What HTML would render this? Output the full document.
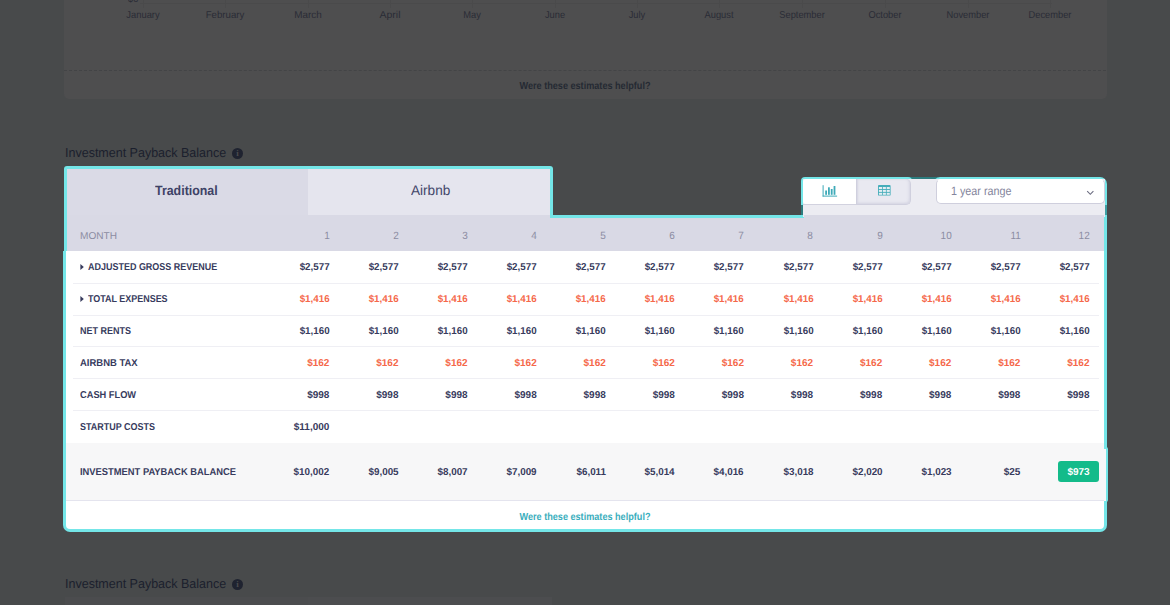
<!DOCTYPE html>
<html><head><meta charset="utf-8"><title>Investment Payback Balance</title>
<style>
*{box-sizing:border-box;margin:0;padding:0}
html,body{width:1170px;height:605px;overflow:hidden}
body{background:#484a4b;font-family:"Liberation Sans",sans-serif;position:relative}
.abs{position:absolute}
.t{position:absolute;white-space:nowrap;line-height:1;text-rendering:geometricPrecision}
.info{position:absolute;width:11px;height:11px;border-radius:50%;background:#1f2330;color:#4a4b4d;font-size:9px;font-weight:bold;text-align:center;line-height:11px;font-family:"Liberation Serif",serif}
.sep{position:absolute;left:73px;width:1026px;height:1px;background:#efeff4}

</style></head><body>
<div class="abs" style="left:64px;top:-10px;width:1042.6px;height:109px;background:#4e4e4f;border-radius:5px"></div>
<div class="abs" style="left:64px;top:70px;width:1042px;height:0;border-top:1px dashed #434446"></div>
<div class="abs" style="left:140px;top:3px;width:912px;height:1px;background:#4a4a4b"></div>
<div class="abs" style="left:143px;top:0;width:1px;height:8px;background:#4a4a4b"></div>
<div class="abs" style="left:225px;top:0;width:1px;height:8px;background:#4a4a4b"></div>
<div class="abs" style="left:308px;top:0;width:1px;height:8px;background:#4a4a4b"></div>
<div class="abs" style="left:390px;top:0;width:1px;height:8px;background:#4a4a4b"></div>
<div class="abs" style="left:472px;top:0;width:1px;height:8px;background:#4a4a4b"></div>
<div class="abs" style="left:555px;top:0;width:1px;height:8px;background:#4a4a4b"></div>
<div class="abs" style="left:637px;top:0;width:1px;height:8px;background:#4a4a4b"></div>
<div class="abs" style="left:719px;top:0;width:1px;height:8px;background:#4a4a4b"></div>
<div class="abs" style="left:802px;top:0;width:1px;height:8px;background:#4a4a4b"></div>
<div class="abs" style="left:885px;top:0;width:1px;height:8px;background:#4a4a4b"></div>
<div class="abs" style="left:968px;top:0;width:1px;height:8px;background:#4a4a4b"></div>
<div class="abs" style="left:1050px;top:0;width:1px;height:8px;background:#4a4a4b"></div>
<div class="info" style="left:232px;top:147.5px">i</div>
<div class="info" style="left:232px;top:578.5px">i</div>
<div class="abs" style="left:65px;top:597px;width:243px;height:10px;background:#4b4c4e"></div>
<div class="abs" style="left:308px;top:597px;width:244px;height:10px;background:#4c4d4f"></div>
<div class="abs" style="left:64px;top:166px;width:489px;height:52px;background:#74e6e8;border-radius:3px 3px 0 0"></div>
<div class="abs" style="left:908px;top:177.2px;width:30px;height:3px;background:#2c7c7e"></div>
<div class="abs" style="left:801px;top:200px;width:4px;height:17px;background:#2c7c7e"></div>
<div class="abs" style="left:1103px;top:200px;width:3.6px;height:17px;background:#3f9fa3"></div>
<div class="abs" style="left:801px;top:177px;width:111px;height:28px;background:#74e6e8;border-radius:4px 4px 0 0"></div>
<div class="abs" style="left:934px;top:177px;width:173px;height:28px;background:#74e6e8;border-radius:6px 7px 0 0"></div>
<div class="abs" style="left:64px;top:215.4px;width:1042.6px;height:40px;background:#74e6e8"></div>
<div class="abs" style="left:63px;top:251px;width:1044px;height:281px;background:#74e6e8;border-radius:0 0 7px 7px"></div>
<div class="abs" style="left:66.5px;top:168.5px;width:241.5px;height:48.5px;background:#dadae6"></div>
<div class="abs" style="left:308px;top:168.5px;width:242.2px;height:46.3px;background:#e5e5ee"></div>
<div class="abs" style="left:803px;top:179px;width:302px;height:38px;background:#ececf2"></div>
<div class="abs" style="left:803px;top:179px;width:54px;height:25px;background:#fff;border-radius:3px 0 0 3px"></div>
<div class="abs" style="left:803px;top:204px;width:54px;height:1px;background:#d2d2df"></div>
<div class="abs" style="left:856px;top:179px;width:55px;height:26px;background:#e9e9f1;border-radius:0 5px 5px 0;border:1px solid #d0d0de;border-top:none;box-shadow:inset -1px -1px 3px #d4d4e2, inset 1px 0 2px #d8d8e4"></div>
<svg class="abs" style="left:821.5px;top:184px" width="16" height="14" viewBox="0 0 16 14"><g fill="#3eaab8"><rect x="0.6" y="1.2" width="1" height="11.3"/><rect x="0.6" y="11.6" width="14.5" height="1"/><rect x="3.2" y="6.5" width="1.8" height="4.3"/><rect x="6" y="3.3" width="1.8" height="7.5"/><rect x="8.8" y="5" width="1.8" height="5.8"/><rect x="11.6" y="2" width="1.8" height="8.8"/></g></svg>
<svg class="abs" style="left:878px;top:185.3px" width="13" height="11" viewBox="0 0 13 11"><rect x="0" y="0" width="12.6" height="10.6" rx="0.9" fill="#45adba"/><g fill="#e4eef3"><rect x="0.9" y="2" width="3.1" height="2"/><rect x="4.8" y="2" width="3.1" height="2"/><rect x="8.7" y="2" width="3.1" height="2"/><rect x="0.9" y="4.9" width="3.1" height="2"/><rect x="4.8" y="4.9" width="3.1" height="2"/><rect x="8.7" y="4.9" width="3.1" height="2"/><rect x="0.9" y="7.8" width="3.1" height="2"/><rect x="4.8" y="7.8" width="3.1" height="2"/><rect x="8.7" y="7.8" width="3.1" height="2"/></g></svg>
<div class="abs" style="left:936px;top:179px;width:169px;height:25px;background:#fff;border-radius:5px;border:1px solid #cfcfdd;border-top-color:#fff"></div>
<svg class="abs" style="left:1086px;top:189.5px" width="9" height="6" viewBox="0 0 9 6"><path d="M1.2 1.2 L4.3 4.3 L7.4 1.2" fill="none" stroke="#6b6c80" stroke-width="1.1"/></svg>
<div class="abs" style="left:66.5px;top:217.6px;width:1037.5px;height:33.4px;background:#d9d9e5"></div>
<div class="abs" style="left:66.5px;top:214.8px;width:483.7px;height:3px;background:#d9d9e5"></div>
<div class="abs" style="left:803.8px;top:215px;width:300.2px;height:3px;background:#d9d9e5"></div>
<div class="abs" style="left:66px;top:251px;width:1038px;height:192px;background:#fff"></div>
<svg class="abs" style="left:80px;top:263px" width="5" height="8" viewBox="0 0 5 8"><path d="M0.4 1.1 L3.8 4 L0.4 6.9 Z" fill="#373b5d"/></svg>
<div class="sep" style="top:283px"></div>
<svg class="abs" style="left:80px;top:295px" width="5" height="8" viewBox="0 0 5 8"><path d="M0.4 1.1 L3.8 4 L0.4 6.9 Z" fill="#373b5d"/></svg>
<div class="sep" style="top:315px"></div>
<div class="sep" style="top:346px"></div>
<div class="sep" style="top:378px"></div>
<div class="sep" style="top:410px"></div>
<div class="abs" style="left:66px;top:443px;width:1038px;height:58px;background:#f7f7f8;border-bottom:1px solid #e4e4ee"></div>
<div class="abs" style="left:1104px;top:447px;width:4px;height:55px;background:#74e6e8;border-radius:0 2px 2px 0"></div>
<div class="abs" style="left:1104px;top:449px;width:1.5px;height:52px;background:#f7f7f8"></div>
<div class="abs" style="left:1058px;top:461px;width:41px;height:21px;background:#14bb8a;border-radius:3px"></div>
<div class="abs" style="left:66px;top:501px;width:1038px;height:28.3px;background:#fff;border-radius:0 0 4px 4px"></div>
<div class="t" style="left:143.00px;transform-origin:0 50%;transform:translateX(-46.798%) scaleX(0.9360);top:11.00px;font-size:10px;color:#2a2c36">January</div>
<div class="t" style="left:225.00px;transform-origin:0 50%;transform:translateX(-48.231%) scaleX(0.9646);top:11.00px;font-size:10px;color:#2a2c36">February</div>
<div class="t" style="left:308.00px;transform-origin:0 50%;transform:translateX(-49.466%) scaleX(0.9893);top:11.00px;font-size:10px;color:#2a2c36">March</div>
<div class="t" style="left:390.00px;transform-origin:0 50%;transform:translateX(-52.459%) scaleX(1.0492);top:11.00px;font-size:10px;color:#2a2c36">April</div>
<div class="t" style="left:472.00px;transform-origin:0 50%;transform:translateX(-46.500%) scaleX(0.9300);top:11.00px;font-size:10px;color:#2a2c36">May</div>
<div class="t" style="left:555.00px;transform-origin:0 50%;transform:translateX(-46.500%) scaleX(0.9300);top:11.00px;font-size:10px;color:#2a2c36">June</div>
<div class="t" style="left:637.00px;transform-origin:0 50%;transform:translateX(-46.500%) scaleX(0.9300);top:11.00px;font-size:10px;color:#2a2c36">July</div>
<div class="t" style="left:719.00px;transform-origin:0 50%;transform:translateX(-46.500%) scaleX(0.9300);top:11.00px;font-size:10px;color:#2a2c36">August</div>
<div class="t" style="left:802.00px;transform-origin:0 50%;transform:translateX(-46.500%) scaleX(0.9300);top:11.00px;font-size:10px;color:#2a2c36">September</div>
<div class="t" style="left:885.00px;transform-origin:0 50%;transform:translateX(-46.500%) scaleX(0.9300);top:11.00px;font-size:10px;color:#2a2c36">October</div>
<div class="t" style="left:968.00px;transform-origin:0 50%;transform:translateX(-46.500%) scaleX(0.9300);top:11.00px;font-size:10px;color:#2a2c36">November</div>
<div class="t" style="left:1050.00px;transform-origin:0 50%;transform:translateX(-46.500%) scaleX(0.9300);top:11.00px;font-size:10px;color:#2a2c36">December</div>
<div class="t" style="left:128.00px;transform-origin:0 50%;transform:scaleX(0.9300);top:-5.00px;font-size:10px;color:#2a2c36">$0</div>
<div class="t" style="left:585.20px;transform-origin:0 50%;transform:translateX(-44.247%) scaleX(0.8849);top:82.00px;font-size:10.3px;font-weight:bold;color:#252a33">Were these estimates helpful?</div>
<div class="t" style="left:64.60px;transform-origin:0 50%;transform:scaleX(0.9615);top:146.00px;font-size:13px;color:#1b1f2d">Investment Payback Balance</div>
<div class="t" style="left:64.60px;transform-origin:0 50%;transform:scaleX(0.9615);top:577.00px;font-size:13px;color:#1b1f2d">Investment Payback Balance</div>
<div class="t" style="left:154.70px;transform-origin:0 50%;transform:scaleX(0.9185);top:184.00px;font-size:13.5px;font-weight:bold;color:#3e4266">Traditional</div>
<div class="t" style="left:410.90px;transform-origin:0 50%;transform:scaleX(0.9711);top:183.00px;font-size:14px;color:#43476a">Airbnb</div>
<div class="t" style="left:950.90px;transform-origin:0 50%;transform:scaleX(0.8978);top:185.00px;font-size:12px;color:#84859c">1 year range</div>
<div class="t" style="left:80.30px;transform-origin:0 50%;transform:scaleX(1.0089);top:232.00px;font-size:10px;color:#8b8ca2">MONTH</div>
<div class="t" style="right:840.40px;transform-origin:100% 50%;transform:scaleX(0.9500);top:231.00px;font-size:10.5px;color:#8b8ca2">1</div>
<div class="t" style="right:771.30px;transform-origin:100% 50%;transform:scaleX(0.9500);top:231.00px;font-size:10.5px;color:#8b8ca2">2</div>
<div class="t" style="right:702.20px;transform-origin:100% 50%;transform:scaleX(0.9500);top:231.00px;font-size:10.5px;color:#8b8ca2">3</div>
<div class="t" style="right:633.10px;transform-origin:100% 50%;transform:scaleX(0.9500);top:231.00px;font-size:10.5px;color:#8b8ca2">4</div>
<div class="t" style="right:564.00px;transform-origin:100% 50%;transform:scaleX(0.9500);top:231.00px;font-size:10.5px;color:#8b8ca2">5</div>
<div class="t" style="right:494.90px;transform-origin:100% 50%;transform:scaleX(0.9500);top:231.00px;font-size:10.5px;color:#8b8ca2">6</div>
<div class="t" style="right:425.80px;transform-origin:100% 50%;transform:scaleX(0.9500);top:231.00px;font-size:10.5px;color:#8b8ca2">7</div>
<div class="t" style="right:356.70px;transform-origin:100% 50%;transform:scaleX(0.9500);top:231.00px;font-size:10.5px;color:#8b8ca2">8</div>
<div class="t" style="right:287.60px;transform-origin:100% 50%;transform:scaleX(0.9500);top:231.00px;font-size:10.5px;color:#8b8ca2">9</div>
<div class="t" style="right:218.50px;transform-origin:100% 50%;transform:scaleX(0.9500);top:231.00px;font-size:10.5px;color:#8b8ca2">10</div>
<div class="t" style="right:149.40px;transform-origin:100% 50%;transform:scaleX(0.9500);top:231.00px;font-size:10.5px;color:#8b8ca2">11</div>
<div class="t" style="right:80.30px;transform-origin:100% 50%;transform:scaleX(0.9500);top:231.00px;font-size:10.5px;color:#8b8ca2">12</div>
<div class="t" style="left:87.80px;transform-origin:0 50%;transform:scaleX(0.8977);top:263.00px;font-size:10px;font-weight:bold;color:#373b5d">ADJUSTED GROSS REVENUE</div>
<div class="t" style="right:840.60px;transform-origin:100% 50%;transform:scaleX(0.9780);top:263.00px;font-size:10px;font-weight:bold;color:#373b5d">$2,577</div>
<div class="t" style="right:771.50px;transform-origin:100% 50%;transform:scaleX(0.9780);top:263.00px;font-size:10px;font-weight:bold;color:#373b5d">$2,577</div>
<div class="t" style="right:702.40px;transform-origin:100% 50%;transform:scaleX(0.9780);top:263.00px;font-size:10px;font-weight:bold;color:#373b5d">$2,577</div>
<div class="t" style="right:633.30px;transform-origin:100% 50%;transform:scaleX(0.9780);top:263.00px;font-size:10px;font-weight:bold;color:#373b5d">$2,577</div>
<div class="t" style="right:564.20px;transform-origin:100% 50%;transform:scaleX(0.9780);top:263.00px;font-size:10px;font-weight:bold;color:#373b5d">$2,577</div>
<div class="t" style="right:495.10px;transform-origin:100% 50%;transform:scaleX(0.9780);top:263.00px;font-size:10px;font-weight:bold;color:#373b5d">$2,577</div>
<div class="t" style="right:426.00px;transform-origin:100% 50%;transform:scaleX(0.9780);top:263.00px;font-size:10px;font-weight:bold;color:#373b5d">$2,577</div>
<div class="t" style="right:356.90px;transform-origin:100% 50%;transform:scaleX(0.9780);top:263.00px;font-size:10px;font-weight:bold;color:#373b5d">$2,577</div>
<div class="t" style="right:287.80px;transform-origin:100% 50%;transform:scaleX(0.9780);top:263.00px;font-size:10px;font-weight:bold;color:#373b5d">$2,577</div>
<div class="t" style="right:218.70px;transform-origin:100% 50%;transform:scaleX(0.9780);top:263.00px;font-size:10px;font-weight:bold;color:#373b5d">$2,577</div>
<div class="t" style="right:149.60px;transform-origin:100% 50%;transform:scaleX(0.9780);top:263.00px;font-size:10px;font-weight:bold;color:#373b5d">$2,577</div>
<div class="t" style="right:80.50px;transform-origin:100% 50%;transform:scaleX(0.9780);top:263.00px;font-size:10px;font-weight:bold;color:#373b5d">$2,577</div>
<div class="t" style="left:87.80px;transform-origin:0 50%;transform:scaleX(0.8952);top:295.00px;font-size:10px;font-weight:bold;color:#373b5d">TOTAL EXPENSES</div>
<div class="t" style="right:840.60px;transform-origin:100% 50%;transform:scaleX(0.9780);top:295.00px;font-size:10px;font-weight:bold;color:#f5684a">$1,416</div>
<div class="t" style="right:771.50px;transform-origin:100% 50%;transform:scaleX(0.9780);top:295.00px;font-size:10px;font-weight:bold;color:#f5684a">$1,416</div>
<div class="t" style="right:702.40px;transform-origin:100% 50%;transform:scaleX(0.9780);top:295.00px;font-size:10px;font-weight:bold;color:#f5684a">$1,416</div>
<div class="t" style="right:633.30px;transform-origin:100% 50%;transform:scaleX(0.9780);top:295.00px;font-size:10px;font-weight:bold;color:#f5684a">$1,416</div>
<div class="t" style="right:564.20px;transform-origin:100% 50%;transform:scaleX(0.9780);top:295.00px;font-size:10px;font-weight:bold;color:#f5684a">$1,416</div>
<div class="t" style="right:495.10px;transform-origin:100% 50%;transform:scaleX(0.9780);top:295.00px;font-size:10px;font-weight:bold;color:#f5684a">$1,416</div>
<div class="t" style="right:426.00px;transform-origin:100% 50%;transform:scaleX(0.9780);top:295.00px;font-size:10px;font-weight:bold;color:#f5684a">$1,416</div>
<div class="t" style="right:356.90px;transform-origin:100% 50%;transform:scaleX(0.9780);top:295.00px;font-size:10px;font-weight:bold;color:#f5684a">$1,416</div>
<div class="t" style="right:287.80px;transform-origin:100% 50%;transform:scaleX(0.9780);top:295.00px;font-size:10px;font-weight:bold;color:#f5684a">$1,416</div>
<div class="t" style="right:218.70px;transform-origin:100% 50%;transform:scaleX(0.9780);top:295.00px;font-size:10px;font-weight:bold;color:#f5684a">$1,416</div>
<div class="t" style="right:149.60px;transform-origin:100% 50%;transform:scaleX(0.9780);top:295.00px;font-size:10px;font-weight:bold;color:#f5684a">$1,416</div>
<div class="t" style="right:80.50px;transform-origin:100% 50%;transform:scaleX(0.9780);top:295.00px;font-size:10px;font-weight:bold;color:#f5684a">$1,416</div>
<div class="t" style="left:80.30px;transform-origin:0 50%;transform:scaleX(0.8999);top:327.00px;font-size:10px;font-weight:bold;color:#373b5d">NET RENTS</div>
<div class="t" style="right:840.60px;transform-origin:100% 50%;transform:scaleX(0.9780);top:327.00px;font-size:10px;font-weight:bold;color:#373b5d">$1,160</div>
<div class="t" style="right:771.50px;transform-origin:100% 50%;transform:scaleX(0.9780);top:327.00px;font-size:10px;font-weight:bold;color:#373b5d">$1,160</div>
<div class="t" style="right:702.40px;transform-origin:100% 50%;transform:scaleX(0.9780);top:327.00px;font-size:10px;font-weight:bold;color:#373b5d">$1,160</div>
<div class="t" style="right:633.30px;transform-origin:100% 50%;transform:scaleX(0.9780);top:327.00px;font-size:10px;font-weight:bold;color:#373b5d">$1,160</div>
<div class="t" style="right:564.20px;transform-origin:100% 50%;transform:scaleX(0.9780);top:327.00px;font-size:10px;font-weight:bold;color:#373b5d">$1,160</div>
<div class="t" style="right:495.10px;transform-origin:100% 50%;transform:scaleX(0.9780);top:327.00px;font-size:10px;font-weight:bold;color:#373b5d">$1,160</div>
<div class="t" style="right:426.00px;transform-origin:100% 50%;transform:scaleX(0.9780);top:327.00px;font-size:10px;font-weight:bold;color:#373b5d">$1,160</div>
<div class="t" style="right:356.90px;transform-origin:100% 50%;transform:scaleX(0.9780);top:327.00px;font-size:10px;font-weight:bold;color:#373b5d">$1,160</div>
<div class="t" style="right:287.80px;transform-origin:100% 50%;transform:scaleX(0.9780);top:327.00px;font-size:10px;font-weight:bold;color:#373b5d">$1,160</div>
<div class="t" style="right:218.70px;transform-origin:100% 50%;transform:scaleX(0.9780);top:327.00px;font-size:10px;font-weight:bold;color:#373b5d">$1,160</div>
<div class="t" style="right:149.60px;transform-origin:100% 50%;transform:scaleX(0.9780);top:327.00px;font-size:10px;font-weight:bold;color:#373b5d">$1,160</div>
<div class="t" style="right:80.50px;transform-origin:100% 50%;transform:scaleX(0.9780);top:327.00px;font-size:10px;font-weight:bold;color:#373b5d">$1,160</div>
<div class="t" style="left:80.30px;transform-origin:0 50%;transform:scaleX(0.9469);top:359.00px;font-size:10px;font-weight:bold;color:#373b5d">AIRBNB TAX</div>
<div class="t" style="right:840.60px;transform-origin:100% 50%;transform:scaleX(1.0000);top:359.00px;font-size:10px;font-weight:bold;color:#f5684a">$162</div>
<div class="t" style="right:771.50px;transform-origin:100% 50%;transform:scaleX(1.0000);top:359.00px;font-size:10px;font-weight:bold;color:#f5684a">$162</div>
<div class="t" style="right:702.40px;transform-origin:100% 50%;transform:scaleX(1.0000);top:359.00px;font-size:10px;font-weight:bold;color:#f5684a">$162</div>
<div class="t" style="right:633.30px;transform-origin:100% 50%;transform:scaleX(1.0000);top:359.00px;font-size:10px;font-weight:bold;color:#f5684a">$162</div>
<div class="t" style="right:564.20px;transform-origin:100% 50%;transform:scaleX(1.0000);top:359.00px;font-size:10px;font-weight:bold;color:#f5684a">$162</div>
<div class="t" style="right:495.10px;transform-origin:100% 50%;transform:scaleX(1.0000);top:359.00px;font-size:10px;font-weight:bold;color:#f5684a">$162</div>
<div class="t" style="right:426.00px;transform-origin:100% 50%;transform:scaleX(1.0000);top:359.00px;font-size:10px;font-weight:bold;color:#f5684a">$162</div>
<div class="t" style="right:356.90px;transform-origin:100% 50%;transform:scaleX(1.0000);top:359.00px;font-size:10px;font-weight:bold;color:#f5684a">$162</div>
<div class="t" style="right:287.80px;transform-origin:100% 50%;transform:scaleX(1.0000);top:359.00px;font-size:10px;font-weight:bold;color:#f5684a">$162</div>
<div class="t" style="right:218.70px;transform-origin:100% 50%;transform:scaleX(1.0000);top:359.00px;font-size:10px;font-weight:bold;color:#f5684a">$162</div>
<div class="t" style="right:149.60px;transform-origin:100% 50%;transform:scaleX(1.0000);top:359.00px;font-size:10px;font-weight:bold;color:#f5684a">$162</div>
<div class="t" style="right:80.50px;transform-origin:100% 50%;transform:scaleX(1.0000);top:359.00px;font-size:10px;font-weight:bold;color:#f5684a">$162</div>
<div class="t" style="left:80.30px;transform-origin:0 50%;transform:scaleX(0.9266);top:391.00px;font-size:10px;font-weight:bold;color:#373b5d">CASH FLOW</div>
<div class="t" style="right:840.60px;transform-origin:100% 50%;transform:scaleX(1.0000);top:391.00px;font-size:10px;font-weight:bold;color:#373b5d">$998</div>
<div class="t" style="right:771.50px;transform-origin:100% 50%;transform:scaleX(1.0000);top:391.00px;font-size:10px;font-weight:bold;color:#373b5d">$998</div>
<div class="t" style="right:702.40px;transform-origin:100% 50%;transform:scaleX(1.0000);top:391.00px;font-size:10px;font-weight:bold;color:#373b5d">$998</div>
<div class="t" style="right:633.30px;transform-origin:100% 50%;transform:scaleX(1.0000);top:391.00px;font-size:10px;font-weight:bold;color:#373b5d">$998</div>
<div class="t" style="right:564.20px;transform-origin:100% 50%;transform:scaleX(1.0000);top:391.00px;font-size:10px;font-weight:bold;color:#373b5d">$998</div>
<div class="t" style="right:495.10px;transform-origin:100% 50%;transform:scaleX(1.0000);top:391.00px;font-size:10px;font-weight:bold;color:#373b5d">$998</div>
<div class="t" style="right:426.00px;transform-origin:100% 50%;transform:scaleX(1.0000);top:391.00px;font-size:10px;font-weight:bold;color:#373b5d">$998</div>
<div class="t" style="right:356.90px;transform-origin:100% 50%;transform:scaleX(1.0000);top:391.00px;font-size:10px;font-weight:bold;color:#373b5d">$998</div>
<div class="t" style="right:287.80px;transform-origin:100% 50%;transform:scaleX(1.0000);top:391.00px;font-size:10px;font-weight:bold;color:#373b5d">$998</div>
<div class="t" style="right:218.70px;transform-origin:100% 50%;transform:scaleX(1.0000);top:391.00px;font-size:10px;font-weight:bold;color:#373b5d">$998</div>
<div class="t" style="right:149.60px;transform-origin:100% 50%;transform:scaleX(1.0000);top:391.00px;font-size:10px;font-weight:bold;color:#373b5d">$998</div>
<div class="t" style="right:80.50px;transform-origin:100% 50%;transform:scaleX(1.0000);top:391.00px;font-size:10px;font-weight:bold;color:#373b5d">$998</div>
<div class="t" style="left:80.30px;transform-origin:0 50%;transform:scaleX(0.8979);top:423.00px;font-size:10px;font-weight:bold;color:#373b5d">STARTUP COSTS</div>
<div class="t" style="right:840.60px;transform-origin:100% 50%;transform:scaleX(1.0000);top:423.00px;font-size:10px;font-weight:bold;color:#373b5d">$11,000</div>
<div class="t" style="left:79.70px;transform-origin:0 50%;transform:scaleX(0.9359);top:468.00px;font-size:10px;font-weight:bold;color:#373b5d">INVESTMENT PAYBACK BALANCE</div>
<div class="t" style="right:840.60px;transform-origin:100% 50%;transform:scaleX(0.9850);top:468.00px;font-size:10px;font-weight:bold;color:#373b5d">$10,002</div>
<div class="t" style="right:771.50px;transform-origin:100% 50%;transform:scaleX(0.9850);top:468.00px;font-size:10px;font-weight:bold;color:#373b5d">$9,005</div>
<div class="t" style="right:702.40px;transform-origin:100% 50%;transform:scaleX(0.9850);top:468.00px;font-size:10px;font-weight:bold;color:#373b5d">$8,007</div>
<div class="t" style="right:633.30px;transform-origin:100% 50%;transform:scaleX(0.9850);top:468.00px;font-size:10px;font-weight:bold;color:#373b5d">$7,009</div>
<div class="t" style="right:564.20px;transform-origin:100% 50%;transform:scaleX(0.9850);top:468.00px;font-size:10px;font-weight:bold;color:#373b5d">$6,011</div>
<div class="t" style="right:495.10px;transform-origin:100% 50%;transform:scaleX(0.9850);top:468.00px;font-size:10px;font-weight:bold;color:#373b5d">$5,014</div>
<div class="t" style="right:426.00px;transform-origin:100% 50%;transform:scaleX(0.9850);top:468.00px;font-size:10px;font-weight:bold;color:#373b5d">$4,016</div>
<div class="t" style="right:356.90px;transform-origin:100% 50%;transform:scaleX(0.9850);top:468.00px;font-size:10px;font-weight:bold;color:#373b5d">$3,018</div>
<div class="t" style="right:287.80px;transform-origin:100% 50%;transform:scaleX(0.9850);top:468.00px;font-size:10px;font-weight:bold;color:#373b5d">$2,020</div>
<div class="t" style="right:218.70px;transform-origin:100% 50%;transform:scaleX(0.9850);top:468.00px;font-size:10px;font-weight:bold;color:#373b5d">$1,023</div>
<div class="t" style="right:149.60px;transform-origin:100% 50%;transform:scaleX(1.0000);top:468.00px;font-size:10px;font-weight:bold;color:#373b5d">$25</div>
<div class="t" style="left:1078.50px;transform-origin:0 50%;transform:translateX(-50.000%) scaleX(1.0000);top:468.00px;font-size:10px;font-weight:bold;color:#fff">$973</div>
<div class="t" style="left:585.20px;transform-origin:0 50%;transform:translateX(-44.247%) scaleX(0.8849);top:513.00px;font-size:10.3px;font-weight:bold;color:#3aaebd">Were these estimates helpful?</div>
</body></html>
